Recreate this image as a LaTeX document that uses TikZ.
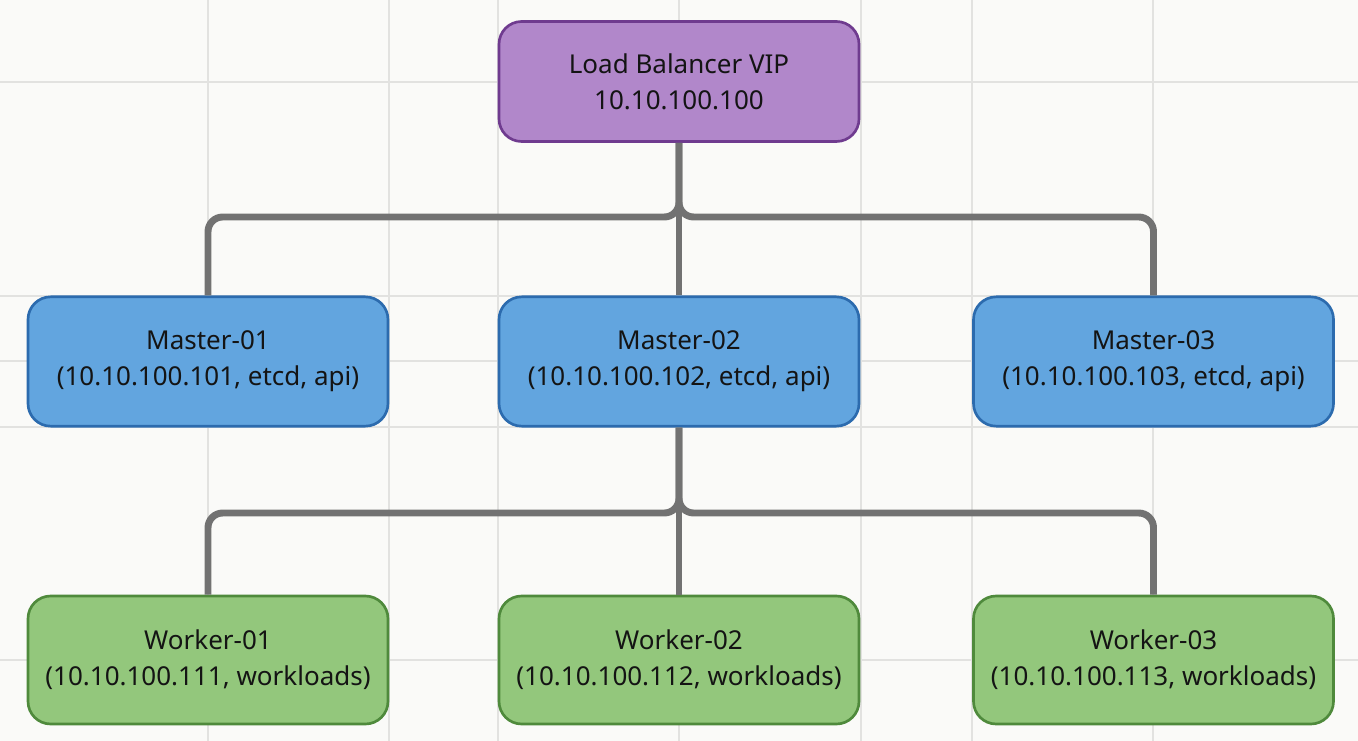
\documentclass[tikz,border=0pt]{standalone}
\usepackage{fontspec}
\setmainfont{Noto Sans}
\definecolor{bgc}{HTML}{FAFAF8}
\definecolor{gridc}{HTML}{E2E2E0}
\definecolor{connc}{HTML}{727272}
\definecolor{lbfill}{HTML}{B187CA}
\definecolor{lbdraw}{HTML}{6F3B8F}
\definecolor{mfill}{HTML}{62A5DF}
\definecolor{mdraw}{HTML}{2C6BAE}
\definecolor{wfill}{HTML}{93C77C}
\definecolor{wdraw}{HTML}{4F8A3C}
\definecolor{textc}{HTML}{141414}
\begin{document}
\begin{tikzpicture}[x=0.75pt,y=-0.75pt,
  box/.style={rounded corners=17pt, line width=2pt, minimum width=270pt,
    align=center, inner sep=0pt, text=textc,
    font=\fontsize{19.5}{27}\selectfont},
  lbbox/.style={box, fill=lbfill, draw=lbdraw, minimum height=90pt},
  mbox/.style={box, fill=mfill, draw=mdraw, minimum height=97pt},
  wbox/.style={box, fill=wfill, draw=wdraw, minimum height=96pt},
  conn/.style={draw=connc, line width=5.2pt, rounded corners=11pt},
  gridline/.style={draw=gridc, line width=0.9pt}]
\fill[bgc] (0,0) rectangle (1358,741);
\useasboundingbox (0,0) rectangle (1358,741);
% grid
\foreach \gx in {208,389,498,679,861,972,1153} \draw[gridline] (\gx,0) -- (\gx,741);
\foreach \gy in {82,296,361,427,660} \draw[gridline] (0,\gy) -- (1358,\gy);
% junctions
\coordinate (j1) at (679,217);
\coordinate (j2) at (679,513);
% nodes
\node[lbbox] (lb) at (679,81.5) {Load Balancer VIP\\10.10.100.100};
\node[mbox] (m1) at (208,361.5) {Master-01\\(10.10.100.101, etcd, api)};
\node[mbox] (m2) at (679,361.5) {Master-02\\(10.10.100.102, etcd, api)};
\node[mbox] (m3) at (1153.5,361.5) {Master-03\\(10.10.100.103, etcd, api)};
\node[wbox] (w1) at (208,660) {Worker-01\\(10.10.100.111, workloads)};
\node[wbox] (w2) at (679,660) {Worker-02\\(10.10.100.112, workloads)};
\node[wbox] (w3) at (1153.5,660) {Worker-03\\(10.10.100.113, workloads)};
% connectors
\begin{scope}[on background layer/.style={}]
\path[conn] (lb.south) -- (j1) -| (m1.north);
\path[conn] (lb.south) -- (j1) -| (m3.north);
\path[conn] (lb.south) -- (m2.north);
\path[conn] (m2.south) -- (j2) -| (w1.north);
\path[conn] (m2.south) -- (j2) -| (w3.north);
\path[conn] (m2.south) -- (w2.north);
\end{scope}
\end{tikzpicture}
\end{document}
